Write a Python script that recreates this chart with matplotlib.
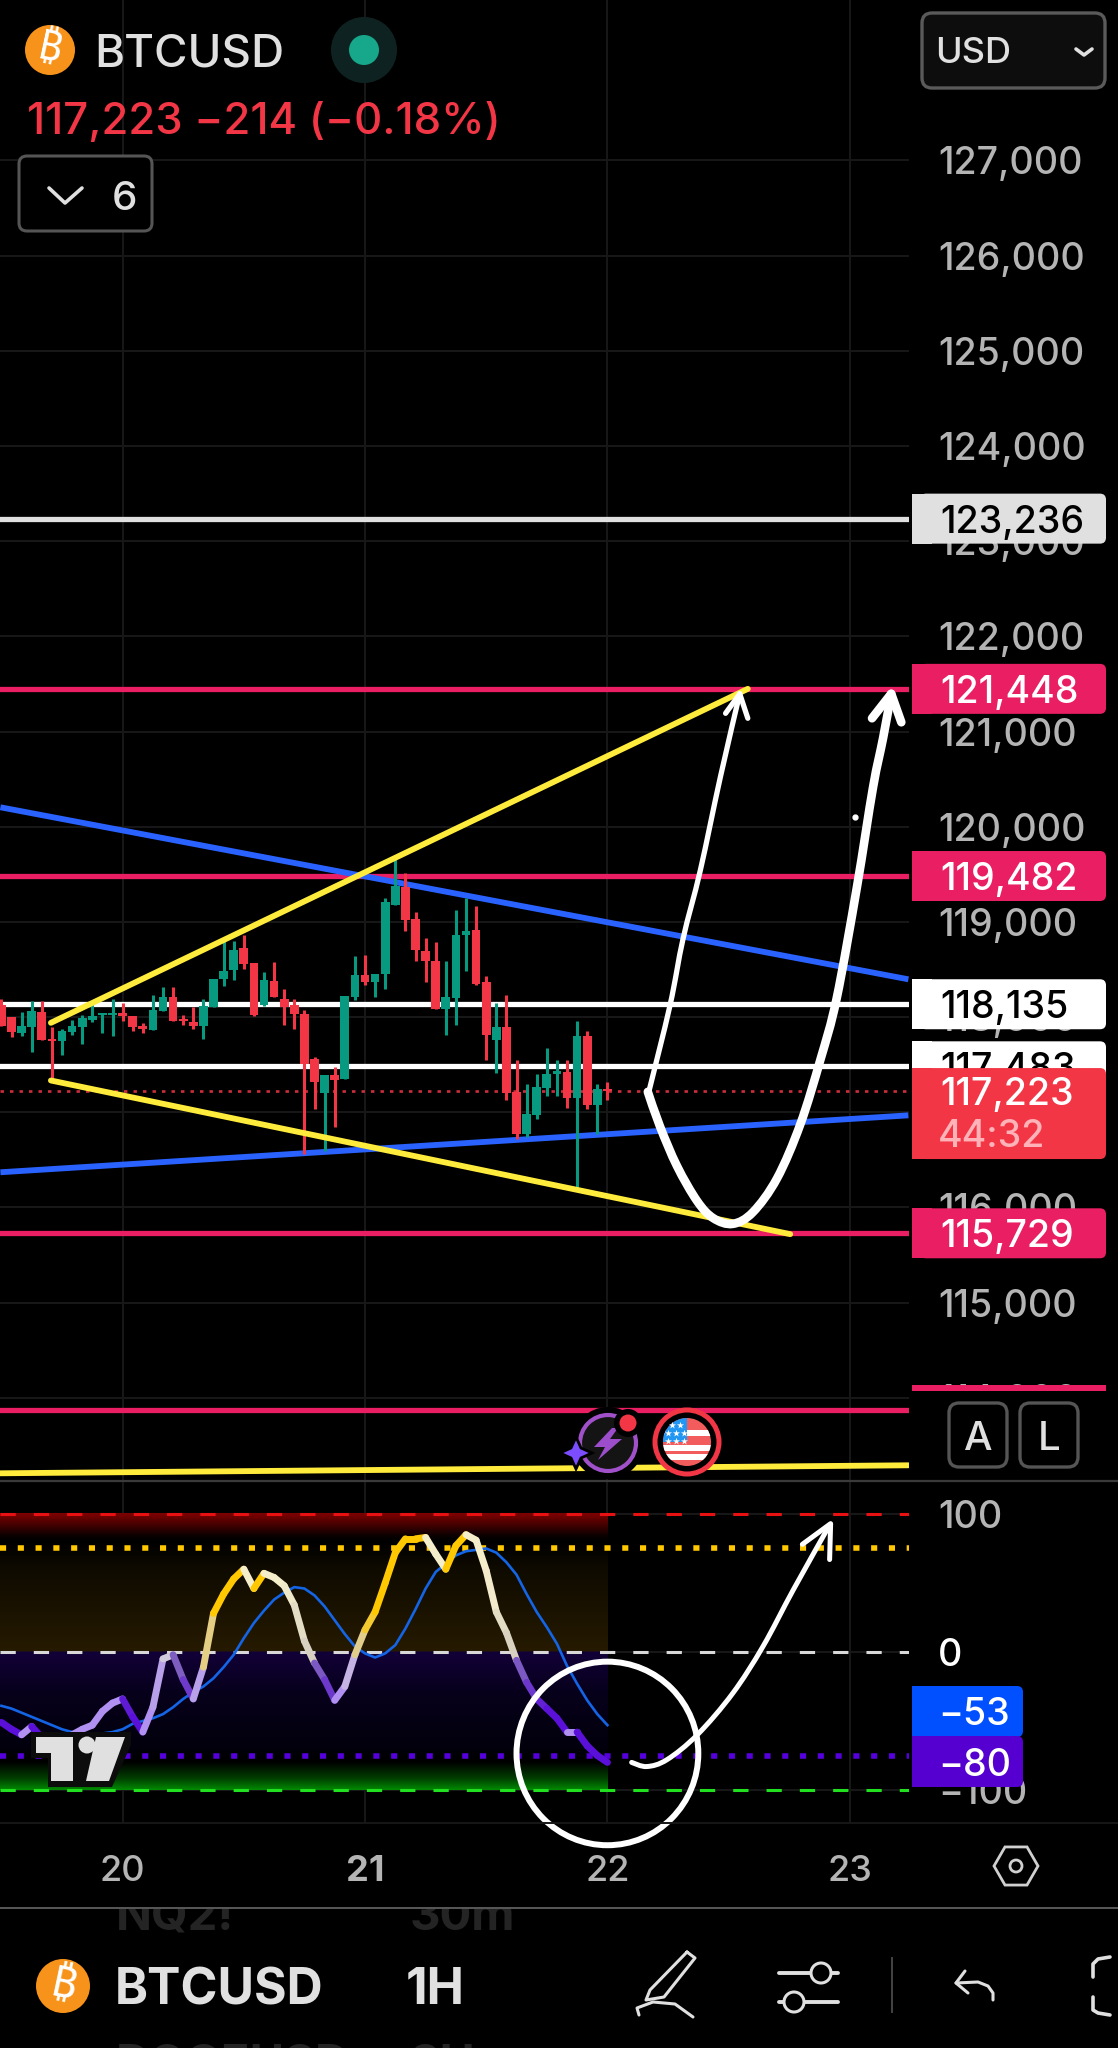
import matplotlib
matplotlib.use('Agg')
import matplotlib.pyplot as plt
import numpy as np
from matplotlib.collections import LineCollection
from matplotlib.colors import LinearSegmentedColormap, to_rgb
from matplotlib.patches import Circle, Ellipse, FancyBboxPatch, PathPatch, Polygon, Rectangle, RegularPolygon
from matplotlib.path import Path

plt.rcParams['font.family'] = ['Inter', 'Noto Sans', 'DejaVu Sans']
plt.rcParams['font.weight'] = 'medium'

# hourly candles, hour 0 = start of the 20th
hours = list(range(-12, 49))
opens = [118132, 118002, 117835, 117897, 118055, 117775, 117754, 117842, 117897, 117974, 118020, 118020,
         118044, 118009, 117905, 117862, 118062, 118209, 117985, 117947, 117911, 118107, 118405, 118499,
         118727, 118569, 118125, 118384, 118195, 118125, 118037, 117555, 117198, 117387, 117355, 118212,
         118437, 118367, 118454, 119182, 119367, 119035, 118699, 118594, 118090, 118202, 118867, 118919,
         118367, 117757, 117894, 117215, 116777, 116967, 117257, 117407, 117422, 117152, 117800, 117075, 117247]
closes = [117905, 117845, 117905, 118062, 117757, 117754, 117859, 117905, 117992, 118009, 118034, 118044,
          118009, 117894, 117877, 118079, 118209, 117957, 117957, 117905, 118115, 118405, 118489, 118709,
          118562, 118017, 118387, 118212, 118107, 118034, 117512, 117317, 117387, 117337, 118220, 118437,
          118367, 118457, 119207, 119375, 119017, 118703, 118587, 118087, 118209, 118867, 118902, 118349,
          117807, 117894, 117205, 116777, 116977, 117267, 117407, 117432, 117145, 117800, 117072, 117240, 117223]
highs = [118195, 118002, 118051, 118167, 118167, 117894, 117880, 117967, 118027, 118160, 118034, 118195,
         118150, 118009, 117940, 118237, 118314, 118314, 118027, 118104, 118195, 118405, 118804, 118797,
         118867, 118569, 118471, 118580, 118300, 118185, 118079, 117579, 117397, 117477, 118220, 118647,
         118657, 118457, 119252, 119665, 119515, 119105, 118832, 118790, 118594, 119130, 119252, 119171,
         118429, 118150, 118227, 117547, 117292, 117407, 117677, 117547, 117547, 117957, 117852, 117299, 117320]
lows = [117905, 117792, 117800, 117635, 117757, 117327, 117597, 117807, 117719, 117947, 117835, 117800,
        117957, 117852, 117835, 117862, 118062, 117957, 117922, 117877, 117772, 118107, 118325, 118387,
        118506, 118010, 118115, 118212, 117915, 117877, 116557, 117030, 116592, 116844, 117355, 118177,
        118335, 118209, 118300, 119182, 118902, 118587, 118367, 118087, 117817, 117915, 118482, 118335,
        117547, 117415, 117124, 116722, 116739, 116932, 117170, 117170, 117040, 116193, 117030, 116774, 117124]

# horizontal levels with their price badges
level_prices = [123236, 121448, 119482, 118135, 117483, 115729]
level_colors = ['#e0e0e0', '#e91e63', '#e91e63', '#ffffff', '#ffffff', '#e91e63']
level_text = ['#000000', '#ffffff', '#ffffff', '#000000', '#000000', '#ffffff']
lower_level = 113870
last_price = 117223

# drawn trend lines (hour, price)
blue_upper = ([-12.1, 77.8], [120204, 118397])
blue_lower = ([-12.1, 77.8], [116370, 116968])
yellow_upper = ([-7.1, 61.9], [117940, 121448])
yellow_lower = ([-7.1, 66.1], [117334, 115720])
yellow_bottom = ([-12.1, 77.8], [113208, 113292])

# hand drawn arrows on the price pane
arrow_thin_h = [52.1, 54.2, 55.5, 57.2, 59.2, 61.1]
arrow_thin_p = [117215, 118124, 118828, 119542, 120529, 121396]
head_thin_h = [59.7, 61.1, 61.9]
head_thin_p = [121191, 121396, 121139]
arrow_bowl_h = [52.0, 53.2, 54.9, 56.9, 58.5, 60.4, 62.4, 64.8, 67.1, 69.1, 70.7, 72.7, 74.3, 75.3, 76.1]
arrow_bowl_p = [117215, 116853, 116433, 116065, 115887, 115828, 115950, 116307, 116874, 117557, 118197,
                119363, 120414, 120934, 121396]
head_bowl_h = [74.2, 76.1, 77.1]
head_bowl_p = [121139, 121396, 121097]

# oscillator pane
osc_fast = [-51, -56, -60, -54, -62, -66, -63, -60, -56, -53, -43, -37, -34, -47, -58, -40, -5, -2, -20, -34,
            -11, 28, 42, 53, 60, 46, 57, 54, 48, 34, 8, -8, -20, -35, -25, -2, 16, 29, 50, 72, 82, 82, 83, 71,
            60, 77, 85, 81, 59, 29, 14, -6, -22, -34, -41, -48, -58, -58, -68, -75, -80]
osc_slow = [-39, -41, -44, -47, -50, -53, -56, -58, -59, -60, -59, -58, -56, -52, -50, -48, -45, -40, -34, -29,
            -25, -19, -11, -2, 10, 21, 30, 38, 43, 47, 46, 41, 33, 23, 13, 4, -1, -4, -1, 5, 17, 31, 46, 58, 64,
            70, 73, 74, 75, 72, 65, 56, 42, 29, 18, 6, -10, -23, -35, -45, -53]
osc_arrow_h = [50.4, 51.9, 53.9, 56.9, 60.4, 63.4, 66.4, 70.0]
osc_arrow_v = [-80, -83, -78, -60, -30, 4, 45, 92]
osc_head_h = [67.3, 70.1, 70.0]
osc_head_v = [78, 93, 67]

price_ticks = list(range(114000, 128000, 1000))
day_ticks = [0, 24, 48, 72]
day_labels = ['20', '21', '22', '23']
osc_ticks = [100, 0, -100]
osc_tick_labels = ['100', '0', '\u2212100']

W, H = 1118, 2048
RED, GREEN = '#f23645', '#089981'
PINK, BLUE, YELLOW = '#e91e63', '#2962ff', '#ffeb3b'
GRID = '#171717'
TICK = '#b4b4b4'
LIGHT = '#e0e0e0'
X_LIM = (-12.14, 77.86)
CHART_W = 909
MAIN_BOTTOM = 1481
OSC_BOTTOM = 1823
LABEL = 27

fig = plt.figure(figsize=(W / 100, H / 100), dpi=100, facecolor='black')


def style_axes(a):
    a.set_facecolor('black')
    for s in a.spines.values():
        s.set_visible(False)
    a.grid(True, color=GRID, lw=1.5)
    a.set_axisbelow(True)
    a.set_xlim(*X_LIM)
    a.set_xticks(day_ticks)
    a.yaxis.tick_right()
    a.tick_params(axis='both', length=0, colors=TICK, labelsize=LABEL)
    a.tick_params(axis='y', pad=21)


def smooth(a, xs, ys, lw, z=6):
    # bezier through the drawn points so the pen strokes stay round
    pts = np.column_stack([xs, ys]).astype(float)
    verts = [pts[0]]
    codes = [Path.MOVETO]
    for i in range(len(pts) - 1):
        p0 = pts[max(i - 1, 0)]
        p3 = pts[min(i + 2, len(pts) - 1)]
        verts += [pts[i] + (pts[i + 1] - p0) / 6, pts[i + 1] - (p3 - pts[i]) / 6, pts[i + 1]]
        codes += [Path.CURVE4] * 3
    a.add_patch(PathPatch(Path(verts, codes), fill=False, ec='white', lw=lw, zorder=z, capstyle='round',
                          joinstyle='round'))


# price pane
ax = fig.add_axes([0, (H - MAIN_BOTTOM) / H, CHART_W / W, MAIN_BOTTOM / H])
style_axes(ax)
ax.set_ylim(113127, 128684)
ax.set_xticklabels([])
ax.set_yticks(price_ticks)
ax.set_yticklabels([f'{p:,}' for p in price_ticks])

for p, c in zip(level_prices, level_colors):
    ax.axhline(p, color=c, lw=3.8, zorder=2)
ax.axhline(lower_level, color=PINK, lw=3.8, zorder=2)
ax.axhline(last_price, color=RED, lw=1.9, ls=(0, (1.3, 2.3)), alpha=0.85, zorder=2)

ax.plot(*blue_upper, color=BLUE, lw=4.2, zorder=3, solid_capstyle='butt')
ax.plot(*blue_lower, color=BLUE, lw=4.2, zorder=3, solid_capstyle='butt')

bottoms = [min(o, c) for o, c in zip(opens, closes)]
heights = [max(abs(o - c), 20) for o, c in zip(opens, closes)]
cols = [GREEN if c >= o else RED for o, c in zip(opens, closes)]
ax.vlines(hours, lows, highs, colors=cols, lw=2.2, zorder=4)
ax.bar(hours, heights, bottom=bottoms, width=0.86, color=cols, zorder=4)

for line in (yellow_upper, yellow_lower, yellow_bottom):
    ax.plot(*line, color=YELLOW, lw=4.2, zorder=4.5, solid_capstyle='round')

smooth(ax, arrow_thin_h, arrow_thin_p, 3.8)
ax.plot(head_thin_h, head_thin_p, color='white', lw=3.8, zorder=6, solid_capstyle='round', solid_joinstyle='round')
smooth(ax, arrow_bowl_h, arrow_bowl_p, 6.2)
ax.plot(head_bowl_h, head_bowl_p, color='white', lw=6.2, zorder=6, solid_capstyle='round', solid_joinstyle='round')
ax.plot([72.5], [120099], 'o', color='white', ms=3.5, zorder=6)

# oscillator pane
ax2 = fig.add_axes([0, (H - OSC_BOTTOM) / H, CHART_W / W, (OSC_BOTTOM - MAIN_BOTTOM) / H])
style_axes(ax2)
ax2.set_ylim(-123.9, 123.9)
ax2.set_yticks(osc_ticks)
ax2.set_yticklabels(osc_tick_labels)
ax2.get_yticklabels()[1].set_color('white')
ax2.set_xticklabels(day_labels)
ax2.get_xticklabels()[1].set_fontweight('bold')
ax2.tick_params(axis='x', labelsize=26, pad=23)

band_stops = [(-100, '#008a00'), (-92, '#004000'), (-80, '#000000'), (-70, '#02000c'), (-30, '#07001b'),
              (0, '#120038'), (0, '#261a00'), (60, '#0f0b00'), (80, '#000000'), (84, '#0c0000'), (100, '#800000')]
band_cmap = LinearSegmentedColormap.from_list('bands', [((v + 100) / 200, c) for v, c in band_stops], N=1024)
ax2.imshow(np.linspace(1, 0, 800).reshape(-1, 1), cmap=band_cmap, vmin=0, vmax=1, aspect='auto',
           extent=[X_LIM[0], 48, -100, 100], zorder=1)
ax2.set_xlim(*X_LIM)
ax2.set_ylim(-123.9, 123.9)

dash = (0, (5, 5.9))
dots = (0, (1.1, 2.1))
ax2.axhline(100, color='#e81010', lw=2.2, ls=dash, zorder=2)
ax2.axhline(0, color='#d8d8d8', lw=2.2, ls=dash, zorder=2)
ax2.axhline(-100, color='#20e020', lw=2.2, ls=dash, zorder=2)
ax2.axhline(75, color='#ffc800', lw=4, ls=dots, zorder=2)
ax2.axhline(-75, color='#5500dd', lw=4, ls=dots, zorder=2)


def mix(c1, c2, t):
    t = min(max(t, 0), 1)
    return tuple(a + (b - a) * t for a, b in zip(to_rgb(c1), to_rgb(c2)))


def seg_color(v0, v1):
    m = (v0 + v1) / 2
    if v1 >= v0:
        return mix('#d8d0b8', '#ffc800', m / 30) if m >= 0 else mix('#d4d0d8', '#b090f0', -m / 30)
    return mix('#d8d0c0', '#f5eecb', m / 50) if m >= 0 else mix('#8a78b8', '#5a10d8', -m / 45)


ax2.plot(hours, osc_slow, color='#1464e6', lw=1.9, zorder=3)
segs = [[(hours[i], osc_fast[i]), (hours[i + 1], osc_fast[i + 1])] for i in range(len(hours) - 1)]
seg_cols = [seg_color(osc_fast[i], osc_fast[i + 1]) for i in range(len(hours) - 1)]
ax2.add_collection(LineCollection(segs, colors=seg_cols, linewidths=5, capstyle='round', zorder=4))

ax2.add_patch(Ellipse((48, -73.5), 18, 133, fill=False, ec='white', lw=4.3, zorder=6, clip_on=False))
smooth(ax2, osc_arrow_h, osc_arrow_v, 3.6)
ax2.plot(osc_head_h, osc_head_v, color='white', lw=3.6, zorder=6, solid_capstyle='round', solid_joinstyle='round')

# app chrome, in pixels on top of everything
ui = fig.add_axes([0, 0, 1, 1], zorder=10)
ui.set_xlim(0, W)
ui.set_ylim(H, 0)
ui.axis('off')
ui.patch.set_alpha(0)


def price_y(p):
    return H - ax.transData.transform((0, p))[1]


def box(x0, y0, x1, y1, fc, ec='none', r=6, lw=0, z=2):
    ui.add_patch(FancyBboxPatch((x0, y0), x1 - x0, y1 - y0, boxstyle=f'round,pad=0,rounding_size={r}',
                                fc=fc, ec=ec, lw=lw, zorder=z))


def badge(y0, y1, color, x1=1106, z=2):
    box(920, y0, x1, y1, color, z=z)
    ui.add_patch(Rectangle((912, y0), 20, y1 - y0, fc=color, ec='none', zorder=z))


def stroke(xs, ys, color=LIGHT, lw=2.2, z=5):
    ui.plot(xs, ys, color=color, lw=lw, zorder=z, solid_capstyle='round', solid_joinstyle='round')


def btc_icon(x, y, r, size):
    ui.add_patch(Circle((x, y), r, fc='#f7931a', ec='none', zorder=3))
    ui.text(x, y, '\u20bf', color='white', fontsize=size, fontweight='bold', rotation=-12, ha='center',
            va='center', family=['Noto Sans', 'DejaVu Sans'], zorder=4)


# level badges
for p, c, t in zip(level_prices, level_colors, level_text):
    yc = price_y(p)
    badge(yc - 25, yc + 25, c)
    ui.text(940, yc, f'{p:,}', color=t, fontsize=LABEL, va='center_baseline', zorder=3)

last_y = price_y(last_price)
badge(last_y - 23, last_y + 68, RED, z=4)
ui.text(940, last_y, f'{last_price:,}', color='white', fontsize=LABEL, va='center_baseline', zorder=5)
ui.text(938, last_y + 42, '44:32', color='#ffb3b8', fontsize=LABEL, va='center_baseline', zorder=5)

# clipped badge above the A / L buttons
ui.add_patch(Rectangle((912, 1391), 196, 89, fc='black', ec='none', zorder=2))
ui.add_patch(Rectangle((912, 1385), 194, 6, fc=PINK, ec='none', zorder=3))
box(949, 1403, 1007, 1467, 'black', '#555555', r=10, lw=2.4, z=3)
box(1020, 1403, 1078, 1467, 'black', '#555555', r=10, lw=2.4, z=3)
ui.text(978, 1436, 'A', color=LIGHT, fontsize=29, ha='center', va='center_baseline', zorder=4)
ui.text(1049, 1436, 'L', color=LIGHT, fontsize=29, ha='center', va='center_baseline', zorder=4)

# oscillator value badges
badge(1686, 1737, '#0050ff', x1=1023)
ui.text(938, 1711, '\u221253', color='white', fontsize=LABEL, va='center_baseline', zorder=3)
badge(1736, 1787, '#5500d0', x1=1023)
ui.text(938, 1762, '\u221280', color='white', fontsize=LABEL, va='center_baseline', zorder=3)

# header
btc_icon(50, 50, 25, 30)
ui.text(94, 50, 'BTCUSD', color=LIGHT, fontsize=33, va='center_baseline')
ui.add_patch(Circle((364, 50), 33, fc='#0e2321', ec='none'))
ui.add_patch(Circle((364, 50), 15, fc='#17a78b', ec='none', zorder=2))
ui.text(27, 118, '117,223 \u2212214 (\u22120.18%)', color=RED, fontsize=31.5, va='center_baseline')
box(19, 156, 152, 231, 'black', '#555555', r=8, lw=2.2)
stroke([49, 65, 82], [188, 203, 188], lw=2.6)
ui.text(124, 195, '6', color=LIGHT, fontsize=29, ha='center', va='center_baseline', zorder=4)
box(922, 13, 1105, 88, '#0d0d0d', '#5a5a5a', r=10, lw=2.4)
ui.text(935, 50, 'USD', color=LIGHT, fontsize=26, va='center_baseline', zorder=4)
stroke([1076, 1084, 1092], [49, 55, 49], lw=2.6)

# event icons on the chart
ui.add_patch(Circle((608, 1443), 36, fc='black', ec='none', zorder=3))
ui.add_patch(Circle((608, 1443), 28, fc='#141414', ec='#a050c8', lw=3, zorder=3))
ui.add_patch(Polygon([(612, 1428), (594, 1447), (605, 1447), (598, 1460), (622, 1439), (610, 1439), (618, 1428)],
                     fc='#9c4dcc', ec='none', zorder=4))
ui.add_patch(Circle((628, 1423), 14, fc='black', ec='none', zorder=4))
ui.add_patch(Circle((628, 1423), 8.5, fc=RED, ec='none', zorder=5))
ui.add_patch(Polygon([(576, 1437), (581, 1448), (592, 1453), (581, 1458), (576, 1469), (571, 1458), (560, 1453),
                      (571, 1448)], fc='#7c4dff', ec='black', lw=2, zorder=5))

ui.add_patch(Circle((687, 1442), 32, fc='black', ec=RED, lw=3.6, zorder=3))
flag = Circle((687, 1442), 24, fc='#f25c5c', ec='none', zorder=4)
ui.add_patch(flag)
for yb in (1430, 1445, 1454):
    r_ = Rectangle((660, yb), 54, 6, fc='white', ec='none', zorder=4.2)
    ui.add_patch(r_)
    r_.set_clip_path(flag)
canton = Rectangle((660, 1418), 27, 24, fc='#2196f3', ec='none', zorder=4.4)
ui.add_patch(canton)
canton.set_clip_path(flag)
star_x = [672, 680, 668, 676, 684, 668, 676, 684]
star_y = [1425, 1425, 1433, 1433, 1433, 1441, 1441, 1441]
ui.scatter(star_x, star_y, marker='*', s=28, c='white', linewidths=0, zorder=4.6)

# tradingview logo
ui.add_patch(Polygon([(31, 1732), (131, 1732), (131, 1745), (112, 1787), (48, 1787), (48, 1758), (31, 1758)],
                     fc='#0c0c0c', ec='none', zorder=2))
ui.add_patch(Polygon([(36, 1737), (72.5, 1737), (72.5, 1781), (50.5, 1781), (50.5, 1753), (36, 1753)],
                     fc=LIGHT, ec='none', zorder=3))
ui.add_patch(Circle((87, 1745), 8.5, fc=LIGHT, ec='none', zorder=3))
ui.add_patch(Polygon([(96, 1737), (125, 1737), (109, 1781), (86, 1781)], fc=LIGHT, ec='none', zorder=3))

# separators
ui.plot([0, W], [MAIN_BOTTOM, MAIN_BOTTOM], color='#3a3a3a', lw=1.6, zorder=7)
ui.plot([0, W], [OSC_BOTTOM, OSC_BOTTOM], color=GRID, lw=1.4, zorder=1)

# settings hexagon
ui.add_patch(RegularPolygon((1016, 1866), 6, radius=22, orientation=np.pi / 6, fill=False, ec='#d0d0d0', lw=2))
ui.add_patch(Circle((1016, 1866), 6, fill=False, ec='#d0d0d0', lw=2))

# watchlist ghost rows behind the bottom bar
ui.text(116, 1930, 'NQ2!', color='#242424', fontsize=34, fontweight='bold', zorder=1)
ui.text(410, 1930, '30m', color='#242424', fontsize=34, fontweight='bold', zorder=1)
ui.text(116, 2078, 'DOGEUSD', color='#242424', fontsize=34, fontweight='bold', zorder=1)
ui.text(410, 2078, '3H', color='#242424', fontsize=34, fontweight='bold', zorder=1)
ui.add_patch(Rectangle((100, 1886), 500, 22, fc='black', ec='none', zorder=2))
ui.plot([0, W], [1908, 1908], color='#585858', lw=1.4, zorder=3)

# bottom bar
btc_icon(63, 1986, 27, 32)
ui.text(115, 1986, 'BTCUSD', color=LIGHT, fontsize=36, fontweight='bold', va='center_baseline')
ui.text(406, 1986, '1H', color=LIGHT, fontsize=36, fontweight='bold', va='center_baseline')

stroke([687, 695, 664, 646, 650, 687], [1952, 1958, 1997, 2000, 1990, 1952])
stroke([639, 637, 653, 675, 693], [2015, 2008, 2002, 2004, 2017])
stroke([779, 838], [1973, 1973], lw=2.8)
stroke([779, 838], [2002, 2002], lw=2.8)
ui.add_patch(Circle((821, 1973), 10, fc='black', ec=LIGHT, lw=2.2, zorder=6))
ui.add_patch(Circle((794, 2002), 10, fc='black', ec=LIGHT, lw=2.2, zorder=6))
ui.plot([892, 892], [1958, 2012], color='#444444', lw=1.4)
stroke([965, 956, 968], [1971, 1983, 1993])
stroke([956, 978, 988, 993, 993], [1983, 1982, 1986, 1993, 2000])
stroke([1110, 1098, 1093, 1093], [1957, 1959, 1964, 1977], lw=2.6)
stroke([1093, 1093, 1098, 1110], [1997, 2010, 2013, 2015], lw=2.6)

fig.savefig('out.png', dpi=100, facecolor='black')
